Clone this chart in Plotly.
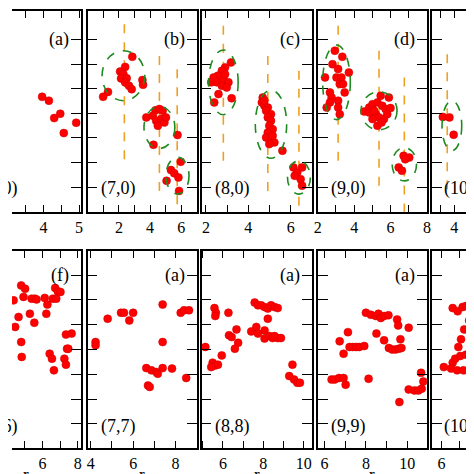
import math
import plotly.graph_objects as go

W = H = 474
FONT = "Liberation Serif, DejaVu Serif, serif"

# ---------- data (top row: (n,0) ; bottom row: (n,n)) ----------
top_x = [
    [3.96, 4.15, 4.30, 4.47, 4.57, 4.92],
    [2.86, 2.40, 2.08, 2.29, 2.14, 2.50, 2.40, 2.65, 2.82, 3.51, 3.55, 1.30, 0.99,
     3.76, 4.35, 4.60, 4.81, 4.18, 4.39, 4.71, 4.92, 4.50, 5.02, 4.22, 5.76,
     5.97, 5.34, 5.55, 5.82, 5.06, 5.86],
    [3.18, 2.90, 2.75, 2.56, 2.36, 2.25, 2.51, 2.82, 3.06, 2.75, 2.98, 2.59, 2.39, 3.21, 2.90,
     4.68, 4.64, 4.76, 4.92, 4.84, 5.07, 4.92, 5.07, 4.99, 5.15, 4.92, 4.84, 5.07, 5.23, 4.99, 5.61, 5.15, 4.76,
     6.13, 6.54, 6.31, 6.47, 6.54, 6.19],
    [2.94, 3.35, 2.81, 3.12, 3.71, 2.40, 3.03, 3.30, 3.21, 2.67, 3.48, 2.76, 2.67, 3.12, 2.49, 3.12, 3.21, 3.39,
     4.56, 4.83, 5.01, 5.28, 5.55, 5.73, 6.00, 5.91, 5.46, 5.19, 5.37, 5.01, 5.64, 5.28, 5.51, 4.83, 5.10, 5.82,
     6.72, 7.03, 6.45, 6.63, 6.81],
    [3.16, 3.64, 3.95],
]
top_y = [
    [4.68, 4.52, 3.81, 3.99, 3.20, 3.62],
    [6.31, 5.90, 5.71, 5.60, 5.43, 5.44, 5.27, 5.13, 4.99, 5.36, 5.17, 4.88, 4.68,
     3.84, 4.13, 4.18, 4.11, 3.91, 3.70, 3.77, 3.63, 3.50, 3.84, 2.72, 3.12,
     2.03, 1.69, 1.56, 1.39, 1.25, 0.84],
    [6.08, 5.88, 5.74, 5.54, 5.47, 5.27, 5.27, 5.40, 5.27, 5.13, 5.06, 4.79, 4.45, 4.62, 5.60,
     4.65, 4.45, 4.31, 4.24, 4.11, 3.97, 3.84, 3.70, 3.50, 3.36, 3.22, 3.02, 2.88, 2.82, 2.75, 2.48, 3.09, 4.52,
     1.80, 1.80, 1.59, 1.32, 1.05, 1.46],
    [6.56, 6.31, 6.01, 5.81, 5.67, 5.47, 5.47, 5.47, 5.20, 4.86, 4.86, 4.65, 4.45, 4.52, 4.24, 4.24, 3.97, 5.20,
     4.08, 4.24, 4.38, 4.45, 4.31, 4.18, 4.22, 4.65, 4.72, 3.97, 3.84, 3.77, 3.77, 3.50, 3.63, 4.04, 4.11, 3.97,
     2.27, 2.20, 1.80, 1.66, 2.13],
    [3.86, 3.84, 3.13],
]
bot_x = [
    [4.37, 4.46, 4.65, 4.80, 4.80, 4.83, 5.02, 4.93, 5.29, 5.54, 5.57, 5.39, 5.67, 6.13, 6.28, 6.22,
     6.41, 6.54, 6.65, 6.59, 6.72, 6.87, 7.02, 6.78, 7.24, 7.39, 7.33, 7.46, 7.33, 7.65],
    [4.23, 4.23, 4.80, 5.43, 5.57, 5.82, 6.00, 7.39, 7.39, 6.62, 6.86, 7.09, 7.16, 7.39, 7.83,
     6.70, 6.78, 8.24, 8.40, 8.63, 8.50],
    [5.13, 5.58, 5.65, 5.62, 6.27, 6.30, 6.43, 6.67, 6.75, 6.59, 5.94, 5.49, 5.62, 5.75, 5.42, 7.40,
     7.57, 7.65, 7.73, 7.89, 8.06, 8.22, 8.38, 8.55, 8.71, 8.06, 8.22, 8.06, 8.30, 8.46, 8.55, 8.71,
     8.87, 7.73, 9.44, 9.28, 9.52, 9.68, 9.81],
    [6.34, 6.49, 6.70, 6.92, 7.02, 6.73, 7.13, 6.92, 7.21, 7.37, 7.53, 7.68, 7.92, 8.13, 8.00, 8.24,
     8.48, 8.61, 8.72, 8.88, 9.09, 8.51, 8.88, 9.11, 9.27, 9.43, 9.59, 9.72, 9.51, 9.56, 9.67, 10.07,
     9.62, 10.07, 10.35, 10.54, 10.70, 10.67, 10.78],
    [6.13, 6.63, 6.63, 6.91, 7.19, 7.38, 7.56, 7.84, 7.28, 7.88, 7.10, 6.95, 6.77, 7.06, 7.38, 6.54,
     6.88, 7.24, 8.02],
]
bot_y = [
    [5.98, 4.91, 5.31, 6.58, 4.30, 3.70, 6.45, 6.12, 5.44, 5.08, 6.05, 6.05, 6.02, 6.08, 5.81, 5.44,
     3.83, 3.63, 3.16, 6.05, 6.48, 6.34, 6.32, 6.05, 3.63, 4.03, 3.39, 4.03, 4.60, 4.64],
    [4.30, 4.17, 5.24, 5.48, 5.48, 5.17, 5.48, 5.81, 4.30, 3.25, 3.16, 3.09, 3.02, 3.25, 3.23,
     2.55, 2.49, 5.48, 5.58, 5.58, 2.85],
    [4.10, 5.67, 5.48, 5.35, 5.48, 4.57, 4.50, 4.81, 4.27, 4.03, 3.76, 3.47, 3.36, 3.39, 3.29, 4.73,
     5.89, 4.91, 5.78, 5.78, 5.71, 5.65, 5.78, 5.71, 5.67, 4.77, 5.24, 4.44, 4.54, 4.46, 4.54, 4.46,
     4.46, 4.64, 3.39, 2.93, 2.79, 2.66, 2.66],
    [2.79, 2.79, 2.85, 2.85, 2.58, 4.33, 4.70, 3.83, 4.10, 4.10, 4.10, 4.10, 4.14, 2.82, 5.48, 5.40,
     5.35, 5.44, 5.27, 5.35, 5.38, 4.64, 4.37, 4.06, 4.00, 4.00, 4.03, 4.06, 5.21, 4.97, 4.41, 4.88,
     1.88, 2.39, 2.35, 2.35, 2.42, 3.06, 2.71],
    [3.29, 3.47, 5.67, 5.54, 5.71, 5.75, 5.17, 5.58, 4.81, 4.81, 4.41, 4.10, 3.63, 3.74, 3.79, 3.23,
     3.16, 3.16, 4.44],
]
# cluster ellipses (panel, cx, cy, rx, ry) and guide lines (panel, x, y0, y1)
ellipses = [
    (2, 2.29, 5.54, 1.37, 1.02), (2, 4.60, 3.43, 0.99, 0.86), (2, 5.76, 1.46, 0.74, 0.75),
    (3, 2.82, 5.27, 0.70, 1.32), (3, 5.07, 3.56, 0.74, 1.39), (3, 6.39, 1.39, 0.54, 0.68),
    (4, 3.03, 5.27, 0.76, 1.52), (4, 5.37, 4.11, 0.99, 0.78), (4, 6.76, 1.93, 0.67, 0.68),
    (5, 3.82, 3.50, 0.72, 1.02),
]
guides = [
    (2, 2.35, 2.13, 7.78), (2, 4.60, 0.84, 6.49), (2, 5.74, 0.30, 5.95),
    (3, 2.82, 2.07, 7.78), (3, 4.92, 0.84, 6.56), (3, 6.39, 0.23, 5.95),
    (4, 3.12, 2.07, 7.78), (4, 5.37, 1.05, 6.69), (4, 6.76, -0.04, 5.60),
    (5, 3.48, 0.91, 6.56),
]
top_letters = ["(a)", "(b)", "(c)", "(d)", ""]
bot_letters = ["(f)", "(a)", "(a)", "(a)", ""]
top_names = ["(6,0)", "(7,0)", "(8,0)", "(9,0)", "(10,0)"]
bot_names = ["(6,6)", "(7,7)", "(8,8)", "(9,9)", "(10,10)"]
x_title = "r"

# ---------- layout geometry (pixels) ----------
cols = [(0, 70), (77, 188), (193, 305), (311, 422), (427, 474)]
top_rows = (3, 204)
bot_rows = (243, 440)
top_xr = [[3.11, 5.05], [0, 7], [1.8, 7], [2, 8], [2.35, 5.73]]
bot_xr = [[4.28, 8.17], [3.86, 9.0], [4.95, 10.4], [5.67, 10.95], [5.45, 8.06]]
top_tick = [(0.5, [4, 5]), (1, [2, 4, 6]), (1, [2, 4, 6]), (1, [2, 4, 6, 8]), (1, [4, 6, 8])]
bot_tick = [(1, [6, 8]), (1, [4, 6, 8]), (1, [6, 8, 10]), (1, [6, 8, 10]), (1, [6, 8, 10])]

fig = go.Figure()
px = lambda v: v / W
py = lambda v: 1 - v / H


def xticks(rng, step, labeled):
    vals, txt = [], []
    v = math.ceil(rng[0] / step) * step
    while v <= rng[1] + 1e-9:
        vals.append(round(v, 3))
        txt.append(str(int(v)) if any(abs(v - l) < 1e-6 for l in labeled) else "")
        v += step
    return vals, txt


for row in range(2):
    for c in range(5):
        k = row * 5 + c + 1
        xs = top_x[c] if row == 0 else bot_x[c]
        ys = top_y[c] if row == 0 else bot_y[c]
        xa = "x" if k == 1 else f"x{k}"
        ya = "y" if k == 1 else f"y{k}"
        fig.add_trace(go.Scatter(x=xs, y=ys, mode="markers", xaxis=xa, yaxis=ya,
                                 marker=dict(color="#ff0000", size=8,
                                             line=dict(color="#cc0000", width=0.5)),
                                 showlegend=False, hoverinfo="skip"))
        rr = top_rows if row == 0 else bot_rows
        xr = top_xr[c] if row == 0 else bot_xr[c]
        yr = [-0.02, 8.18] if row == 0 else [0.03, 7.97]
        step, lab = top_tick[c] if row == 0 else bot_tick[c]
        tv, tt = xticks(xr, step, lab)
        key = "" if k == 1 else str(k)
        fig.layout["xaxis" + key] = dict(
            domain=[px(cols[c][0]), px(cols[c][1])], range=xr, anchor=ya,
            showline=True, linecolor="black", linewidth=1.5, mirror="ticks",
            ticks="inside", ticklen=7, tickwidth=1.2, tickcolor="black",
            tickvals=tv, ticktext=tt, showgrid=False, zeroline=False,
            tickfont=dict(family=FONT, size=16, color="black"),
        )
        side = "right" if c == 0 else "left"
        fig.layout["yaxis" + key] = dict(
            domain=[py(rr[1]), py(rr[0])], range=yr, anchor=xa,
            showline=True, linecolor="black", linewidth=1.5,
            mirror="ticks" if c in (1, 2, 3) else False, side=side,
            ticks="inside", ticklen=10, tickwidth=1.2, tickcolor="black",
            tickvals=[1, 2, 3, 4, 5, 6, 7], showticklabels=False,
            showgrid=False, zeroline=False,
        )
        letters = top_letters if row == 0 else bot_letters
        names = top_names if row == 0 else bot_names
        ly = 32 if row == 0 else 267
        ny = 180 if row == 0 else 418
        if letters[c]:
            fig.add_annotation(text=letters[c], xref="paper", yref="paper",
                               x=px(cols[c][1] - 10), y=py(ly), xanchor="right", yanchor="middle",
                               showarrow=False, font=dict(family=FONT, size=18, color="black"))
        nx = cols[c][0] + 11 if c > 0 else -32
        if c == 4:
            nx = 437
        fig.add_annotation(text=names[c], xref="paper", yref="paper",
                           x=px(nx), y=py(ny), xanchor="left", yanchor="middle",
                           showarrow=False, font=dict(family=FONT, size=18, color="black"))
        if row == 1 and c < 4:
            fig.add_annotation(text=x_title, xref="paper", yref="paper",
                               x=px((cols[c][0] + cols[c][1]) / 2 if c > 0 else 14), y=py(466),
                               xanchor="center", yanchor="middle", showarrow=False,
                               font=dict(family=FONT, size=17, color="black"))

for (p, cx, cy, rx, ry) in ellipses:
    key = "" if p == 1 else str(p)
    fig.add_shape(type="circle", xref="x" + key, yref="y" + key,
                  x0=cx - rx, x1=cx + rx, y0=cy - ry, y1=cy + ry,
                  line=dict(color="#1f8a1f", width=1.6, dash="dash"))
for (p, gx, y0, y1) in guides:
    key = "" if p == 1 else str(p)
    fig.add_shape(type="line", xref="x" + key, yref="y" + key, x0=gx, x1=gx, y0=y0, y1=y1,
                  line=dict(color="#f0a020", width=1.6, dash="dash"), layer="below")

fig.update_layout(width=W, height=H, margin=dict(l=0, r=0, t=0, b=0),
                  paper_bgcolor="white", plot_bgcolor="white")
fig.write_html("out.html")
